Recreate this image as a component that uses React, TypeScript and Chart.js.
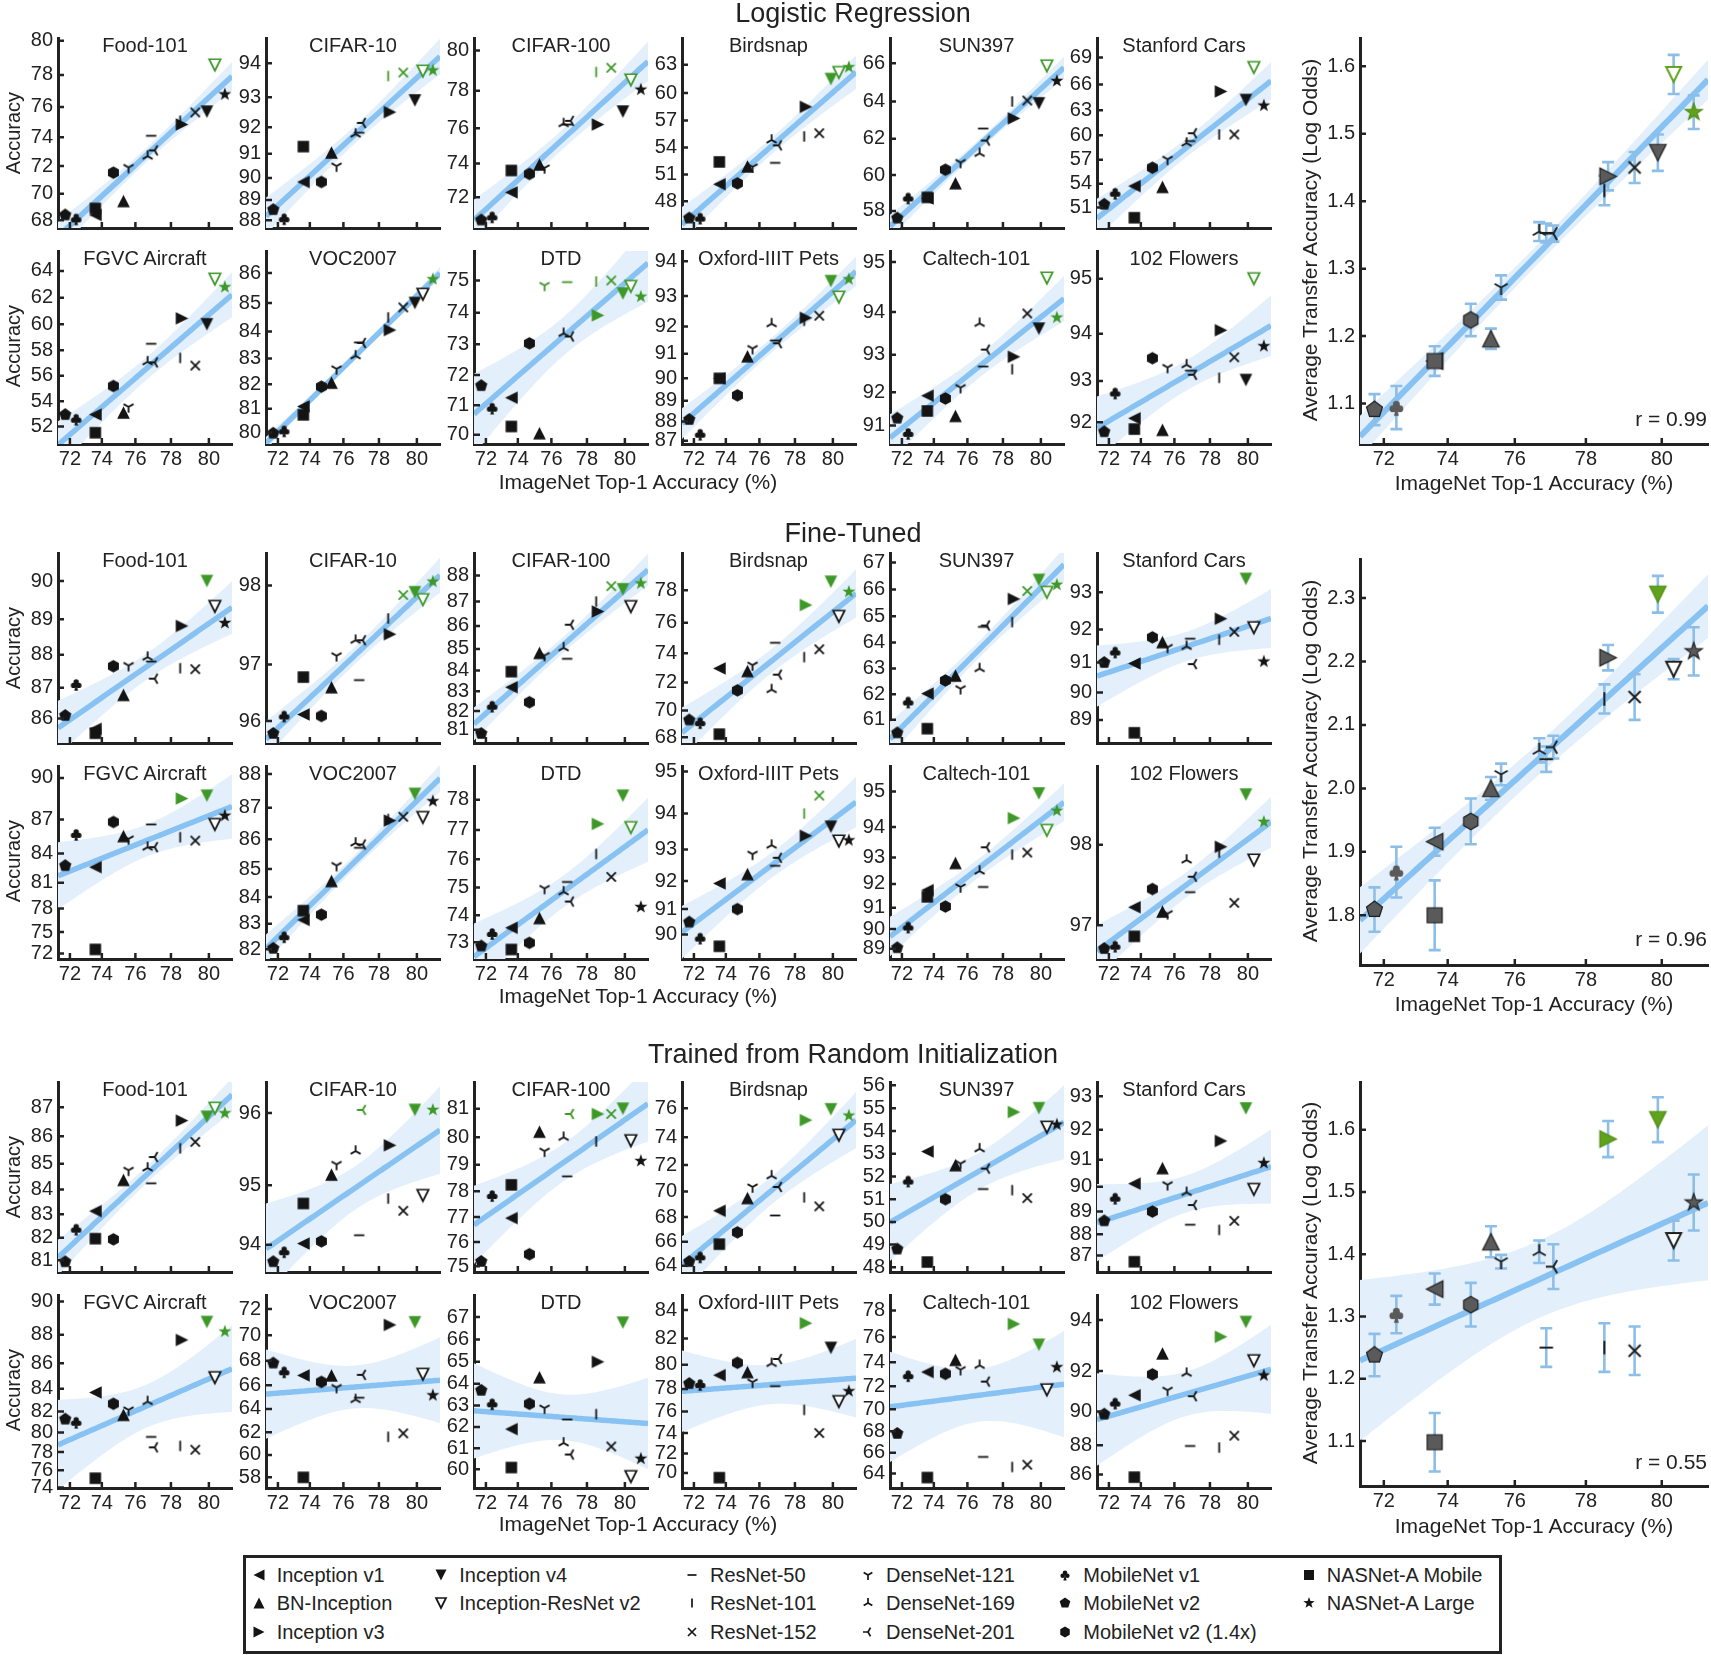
import React, { useEffect, useRef } from 'react';
import { Chart, registerables } from 'chart.js';

Chart.register(...registerables);

const FONT = '"Liberation Sans", Arial, Helvetica, sans-serif';
Chart.defaults.font.family = FONT;

// ---------------- models ----------------
const MODEL_NAMES = ['Inception v1', 'BN-Inception', 'Inception v3', 'Inception v4', 'Inception-ResNet v2', 'ResNet-50', 'ResNet-101', 'ResNet-152', 'DenseNet-121', 'DenseNet-169', 'DenseNet-201', 'MobileNet v1', 'MobileNet v2', 'MobileNet v2 (1.4x)', 'NASNet-A Mobile', 'NASNet-A Large'];
const MODEL_MARKERS = ['triLeft', 'triUp', 'triRight', 'triDown', 'triDownOpen', 'hline', 'vline', 'x', 'tri1', 'tri2', 'tri3', 'club', 'pentagon', 'hexagon', 'square', 'star'];
const IMAGENET_TOP1 = [73.6, 75.3, 78.6, 79.9, 80.3, 76.9, 78.5, 79.3, 75.6, 76.7, 77.1, 72.4, 71.7, 74.7, 73.6, 80.8];

const X_TICKS = [72, 74, 76, 78, 80];
const X_RANGE = [71.23, 81.15];

const DATASET_NAMES = ['Food-101', 'CIFAR-10', 'CIFAR-100', 'Birdsnap', 'SUN397', 'Stanford Cars', 'FGVC Aircraft', 'VOC2007', 'DTD', 'Oxford-IIIT Pets', 'Caltech-101', '102 Flowers'];

// ---------------- Logistic Regression ----------------
const LR_FOOD101 = [68.4, 69.45, 74.86, 75.7, 78.6, 74.1, 75.1, 75.65, 71.9, 72.7, 73.1, 68.1, 68.4, 71.53, 68.9, 76.8];
const LR_CIFAR10 = [89.82, 91.05, 92.52, 92.9, 93.78, 91.8, 93.64, 93.74, 90.5, 91.75, 92.15, 88.08, 88.53, 89.82, 91.28, 93.8];
const LR_CIFAR100 = [72.3, 73.95, 76.2, 76.9, 78.55, 76.2, 78.95, 79.16, 73.75, 76.25, 76.4, 70.8, 70.6, 73.4, 73.6, 78.05];
const LR_BIRDSNAP = [49.9, 51.9, 58.5, 61.5, 62.2, 52.3, 55.25, 55.6, 51.85, 54.85, 54.25, 46.1, 46.1, 50.0, 52.4, 62.75];
const LR_SUN397 = [58.7, 59.55, 63.1, 63.9, 65.87, 62.55, 64.0, 64.05, 60.7, 61.2, 61.9, 58.73, 57.6, 60.3, 58.76, 65.08];
const LR_CARS = [53.7, 53.6, 65.2, 64.2, 67.9, 59.3, 60.1, 60.1, 57.05, 59.05, 60.25, 52.8, 51.4, 56.0, 49.7, 63.55];
const LR_AIRCRAFT = [52.94, 53.1, 60.45, 60.0, 63.4, 58.5, 57.4, 56.8, 53.55, 57.1, 57.05, 52.57, 52.94, 55.2, 51.5, 62.8];
const LR_VOC = [81.1, 82.06, 84.05, 85.0, 85.3, 83.6, 84.5, 84.85, 82.6, 83.1, 83.58, 80.07, 79.97, 81.9, 80.75, 85.8];
const LR_DTD = [71.25, 70.05, 73.92, 74.6, 74.82, 74.95, 74.97, 75.0, 74.85, 73.35, 73.25, 70.9, 71.65, 73.03, 70.28, 74.5];
const LR_PETS = [90.0, 90.9, 92.3, 93.45, 92.97, 91.5, 92.2, 92.37, 91.2, 92.1, 91.4, 87.35, 88.1, 89.25, 90.0, 93.5];
const LR_CALTECH = [91.9, 91.3, 92.95, 93.63, 94.7, 92.7, 92.63, 93.97, 92.13, 93.75, 93.13, 90.75, 91.23, 91.82, 91.45, 93.88];
const LR_FLOWERS = [92.1, 91.8, 94.07, 93.02, 95.0, 93.23, 93.07, 93.52, 93.3, 93.36, 93.14, 92.72, 91.75, 93.5, 91.82, 93.75];
const LR_VALUES = [LR_FOOD101, LR_CIFAR10, LR_CIFAR100, LR_BIRDSNAP, LR_SUN397, LR_CARS, LR_AIRCRAFT, LR_VOC, LR_DTD, LR_PETS, LR_CALTECH, LR_FLOWERS];
const LR_GREEN = [[4], [4, 6, 7, 15], [4, 6, 7], [3, 4, 15], [4], [4], [4, 15], [15], [2, 3, 4, 5, 6, 7, 8, 15], [3, 4, 15], [4, 15], [4]];
const LR_TICKS = [
  [68, 70, 72, 74, 76, 78, 80], [88, 89, 90, 91, 92, 93, 94], [72, 74, 76, 78, 80], [48, 51, 54, 57, 60, 63], [58, 60, 62, 64, 66], [51, 54, 57, 60, 63, 66, 69],
  [52, 54, 56, 58, 60, 62, 64], [80, 81, 82, 83, 84, 85, 86], [70, 71, 72, 73, 74, 75], [87, 88, 89, 90, 91, 92, 93, 94], [91, 92, 93, 94, 95], [92, 93, 94, 95],
];
const LR_RANGES = [[67.4, 80.15], [87.6, 94.65], [70.1, 80.6], [45.0, 65.76], [57.04, 67.3], [48.4, 71.06], [50.6, 65.45], [79.5, 86.7], [69.68, 75.89], [86.83, 94.27], [90.4, 95.2], [91.42, 95.44]];
const BIG_LR = [1.163, 1.196, 1.437, 1.472, 1.588, 1.353, 1.416, 1.45, 1.272, 1.355, 1.352, 1.094, 1.091, 1.224, 1.163, 1.532];
const BIG_LR_ERR = [0.022, 0.015, 0.021, 0.027, 0.029, 0.014, 0.022, 0.023, 0.018, 0.014, 0.012, 0.032, 0.023, 0.024, 0.022, 0.025];
const BIG_LR_GREEN = [4, 15];
const BIG_LR_TICKS = [1.1, 1.2, 1.3, 1.4, 1.5, 1.6];
const BIG_LR_RANGE = [1.04, 1.642];

// ---------------- Fine-Tuned ----------------
const FT_FOOD101 = [85.65, 86.77, 88.82, 90.0, 89.35, 87.8, 87.6, 87.57, 87.68, 87.93, 87.28, 87.1, 86.1, 87.66, 85.5, 88.9];
const FT_CIFAR10 = [96.13, 96.63, 97.43, 97.93, 97.85, 96.75, 97.63, 97.9, 97.13, 97.35, 97.35, 96.1, 95.74, 96.1, 96.8, 98.04];
const FT_CIFAR100 = [83.2, 84.82, 86.6, 87.48, 86.8, 84.55, 87.0, 87.6, 84.7, 85.05, 86.05, 82.25, 80.8, 82.45, 83.95, 87.7];
const FT_BIRDSNAP = [72.98, 72.8, 77.1, 78.5, 76.4, 74.7, 73.75, 74.27, 73.2, 71.5, 72.55, 69.1, 69.3, 71.45, 68.24, 77.9];
const FT_SUN397 = [62.03, 62.73, 65.65, 66.36, 65.9, 64.6, 64.78, 65.95, 62.22, 63.0, 64.65, 61.7, 60.48, 62.54, 60.65, 66.18];
const FT_CARS = [90.97, 91.63, 92.3, 93.33, 92.05, 91.73, 91.7, 91.93, 91.47, 91.5, 90.95, 91.33, 91.0, 91.77, 88.5, 91.03];
const FT_AIRCRAFT = [82.65, 85.6, 88.6, 88.8, 86.6, 86.6, 85.5, 85.2, 85.35, 84.6, 84.6, 85.75, 82.8, 86.8, 72.6, 87.3];
const FT_VOC = [83.15, 84.58, 86.6, 87.42, 86.7, 85.72, 86.65, 86.72, 85.12, 85.88, 85.83, 82.5, 82.04, 83.35, 83.5, 87.2];
const FT_DTD = [73.54, 73.9, 77.2, 78.13, 77.08, 75.2, 76.18, 75.38, 74.97, 74.85, 74.5, 73.33, 72.86, 72.98, 72.73, 74.3];
const FT_PETS = [91.92, 92.23, 93.4, 93.65, 93.25, 92.5, 94.0, 94.45, 92.86, 93.13, 92.75, 89.85, 90.5, 91.0, 89.5, 93.27];
const FT_CALTECH = [91.75, 92.8, 94.27, 94.95, 93.9, 91.88, 93.1, 93.17, 91.88, 92.5, 93.35, 90.1, 89.05, 91.05, 91.47, 94.48];
const FT_FLOWERS = [97.26, 97.2, 97.98, 98.45, 97.84, 97.46, 97.92, 97.32, 97.17, 97.84, 97.65, 96.67, 96.63, 97.5, 96.83, 98.22];
const FT_VALUES = [FT_FOOD101, FT_CIFAR10, FT_CIFAR100, FT_BIRDSNAP, FT_SUN397, FT_CARS, FT_AIRCRAFT, FT_VOC, FT_DTD, FT_PETS, FT_CALTECH, FT_FLOWERS];
const FT_GREEN = [[3], [3, 4, 7, 15], [3, 7, 15], [2, 3, 15], [3, 4, 7, 15], [3], [2, 3], [3], [2, 3, 4], [6, 7], [2, 3, 4, 15], [3, 15]];
const FT_TICKS = [
  [86, 87, 88, 89, 90], [96, 97, 98], [81, 82, 83, 84, 85, 86, 87, 88], [68, 70, 72, 74, 76, 78], [61, 62, 63, 64, 65, 66, 67], [89, 90, 91, 92, 93],
  [72, 75, 78, 81, 84, 87, 90], [82, 83, 84, 85, 86, 87, 88], [73, 74, 75, 76, 77, 78], [90, 91, 92, 93, 94, 95], [89, 90, 91, 92, 93, 94, 95], [97, 98],
];
const FT_RANGES = [[85.16, 90.68], [95.53, 98.31], [80.28, 88.81], [67.57, 80.14], [60.08, 67.35], [88.09, 93.93], [71.22, 90.74], [81.61, 88.23], [72.37, 79.08], [88.94, 95.12], [88.44, 95.62], [96.45, 98.66]];
const BIG_FT = [1.916, 2.0, 2.206, 2.306, 2.188, 2.046, 2.141, 2.144, 2.022, 2.06, 2.065, 1.868, 1.809, 1.948, 1.8, 2.216];
const BIG_FT_ERR = [0.022, 0.018, 0.02, 0.029, 0.016, 0.02, 0.023, 0.036, 0.017, 0.019, 0.018, 0.04, 0.035, 0.036, 0.055, 0.038];
const BIG_FT_GREEN = [3];
const BIG_FT_TICKS = [1.8, 1.9, 2.0, 2.1, 2.2, 2.3];
const BIG_FT_RANGE = [1.7216, 2.3616];

// ---------------- Random Initialization ----------------
const RI_FOOD101 = [83.13, 84.38, 86.55, 86.68, 86.97, 84.25, 85.57, 85.8, 84.75, 84.84, 85.25, 82.37, 80.93, 81.93, 81.96, 86.8];
const RI_CIFAR10 = [94.02, 95.16, 95.58, 96.04, 94.84, 94.17, 94.79, 94.59, 95.31, 95.5, 96.04, 93.87, 93.68, 94.06, 94.71, 96.04];
const RI_CIFAR100 = [76.96, 80.2, 80.82, 81.0, 79.88, 78.57, 79.85, 80.82, 79.5, 80.0, 80.82, 77.84, 75.2, 75.5, 78.25, 79.14];
const RI_BIRDSNAP = [68.5, 69.5, 75.2, 75.93, 74.15, 68.13, 69.55, 68.85, 70.35, 71.2, 70.35, 64.75, 64.35, 66.77, 65.8, 75.5];
const RI_SUN397 = [53.1, 52.5, 54.83, 55.0, 54.17, 51.45, 51.4, 51.05, 52.57, 53.22, 52.35, 51.8, 48.8, 51.0, 48.23, 54.28];
const RI_CARS = [90.12, 90.7, 91.64, 92.65, 89.9, 88.43, 88.2, 88.6, 90.08, 89.78, 89.27, 89.55, 88.6, 89.0, 86.7, 90.88];
const RI_AIRCRAFT = [83.68, 81.7, 87.65, 88.8, 84.9, 79.57, 78.65, 78.25, 82.15, 82.9, 78.5, 81.0, 81.3, 82.7, 75.1, 88.2];
const RI_VOC = [66.8, 66.8, 70.8, 71.0, 66.9, 64.95, 61.6, 61.9, 65.8, 64.8, 66.85, 67.1, 67.8, 66.27, 58.0, 65.15];
const RI_DTD = [61.9, 64.3, 65.0, 66.75, 59.65, 62.35, 62.6, 61.08, 62.88, 61.25, 60.7, 63.08, 63.7, 63.08, 60.08, 60.5];
const RI_PETS = [79.15, 79.4, 83.1, 81.3, 76.9, 78.23, 76.15, 74.0, 78.57, 80.1, 80.45, 78.37, 78.45, 80.15, 69.5, 77.8];
const RI_CALTECH = [73.2, 74.2, 77.0, 75.4, 71.7, 65.6, 64.63, 64.85, 73.4, 73.75, 72.4, 72.9, 67.8, 73.05, 63.6, 73.6];
const RI_FLOWERS = [90.85, 92.75, 93.4, 93.93, 92.45, 87.95, 87.85, 88.6, 91.1, 91.9, 90.8, 90.45, 89.85, 91.85, 85.8, 91.8];
const RI_VALUES = [RI_FOOD101, RI_CIFAR10, RI_CIFAR100, RI_BIRDSNAP, RI_SUN397, RI_CARS, RI_AIRCRAFT, RI_VOC, RI_DTD, RI_PETS, RI_CALTECH, RI_FLOWERS];
const RI_GREEN = [[3, 4, 15], [3, 10, 15], [2, 3, 7, 10], [2, 3, 15], [2, 3], [3], [3, 15], [3], [3], [2], [2, 3], [2, 3]];
const RI_TICKS = [
  [81, 82, 83, 84, 85, 86, 87], [94, 95, 96], [75, 76, 77, 78, 79, 80, 81], [64, 66, 68, 70, 72, 74, 76], [48, 49, 50, 51, 52, 53, 54, 55, 56], [87, 88, 89, 90, 91, 92, 93],
  [74, 76, 78, 80, 82, 84, 86, 88, 90], [58, 60, 62, 64, 66, 68, 70, 72], [60, 61, 62, 63, 64, 65, 66, 67], [70, 72, 74, 76, 78, 80, 82, 84], [64, 66, 68, 70, 72, 74, 76, 78], [86, 88, 90, 92, 94],
];
const RI_RANGES = [[80.46, 87.82], [93.48, 96.37], [74.76, 81.9], [63.47, 77.71], [47.79, 56.14], [86.18, 93.39], [73.95, 90.36], [57.04, 73.03], [59.1, 67.96], [68.4, 84.98], [62.57, 79.1], [84.98, 94.8]];
const BIG_RI = [1.344, 1.42, 1.585, 1.616, 1.422, 1.25, 1.25, 1.245, 1.388, 1.404, 1.38, 1.303, 1.238, 1.319, 1.098, 1.483];
const BIG_RI_ERR = [0.025, 0.025, 0.029, 0.036, 0.032, 0.031, 0.039, 0.039, 0.011, 0.018, 0.036, 0.03, 0.034, 0.035, 0.047, 0.045];
const BIG_RI_GREEN = [2, 3];
const BIG_RI_TICKS = [1.1, 1.2, 1.3, 1.4, 1.5, 1.6];
const BIG_RI_RANGE = [1.0277, 1.6766];

const SECTION_DATA = [
  { title: 'Logistic Regression', values: LR_VALUES, green: LR_GREEN, ticks: LR_TICKS, ranges: LR_RANGES, big: BIG_LR, bigErr: BIG_LR_ERR, bigGreen: BIG_LR_GREEN, bigTicks: BIG_LR_TICKS, bigRange: BIG_LR_RANGE, r: 'r = 0.99' },
  { title: 'Fine-Tuned', values: FT_VALUES, green: FT_GREEN, ticks: FT_TICKS, ranges: FT_RANGES, big: BIG_FT, bigErr: BIG_FT_ERR, bigGreen: BIG_FT_GREEN, bigTicks: BIG_FT_TICKS, bigRange: BIG_FT_RANGE, r: 'r = 0.96' },
  { title: 'Trained from Random Initialization', values: RI_VALUES, green: RI_GREEN, ticks: RI_TICKS, ranges: RI_RANGES, big: BIG_RI, bigErr: BIG_RI_ERR, bigGreen: BIG_RI_GREEN, bigTicks: BIG_RI_TICKS, bigRange: BIG_RI_RANGE, r: 'r = 0.55' },
];

// ---------------- layout / style ----------------
const COL_X = [58, 266, 474, 681.5, 889.5, 1097];
const PANEL_W = 174;
const PANEL_H = 196;
const ROW_STEP = 213;
const BIG_LEFT = 1360;
const BIG_W = 348;
const SECTION_LAYOUT = [
  { titleY: 13, rowTop: 35, bigTop: 35, bigBottom: 444, xTitleY: 481, bigXTitleY: 482, rY: 418 },
  { titleY: 533, rowTop: 550, bigTop: 556, bigBottom: 965, xTitleY: 995, bigXTitleY: 1003, rY: 938 },
  { titleY: 1054, rowTop: 1079, bigTop: 1079, bigBottom: 1486, xTitleY: 1523, bigXTitleY: 1525, rY: 1461 },
];
const LEGEND_COLUMNS = [[0, 1, 2], [3, 4], [5, 6, 7], [8, 9, 10], [11, 12, 13], [14, 15]];
const LEGEND_COL_X = [276.7, 459.3, 710, 886, 1083.3, 1326.7];
const LEGEND_ROW_Y = [1575, 1603.3, 1631.7];

const LW = 62, PT = 14, PR = 14, BH_L = 36, BH_N = 14;
const AXIS_C = '#222222';
const TEXT_C = '#222222';
const LINE_C = 'rgb(136,194,242)';
const BAND_C = 'rgb(227,240,252)';
const ERR_C = 'rgb(140,190,232)';
const BLACK = '#141414';
const GREEN_S = 'rgb(62,152,40)';
const GREEN_B = 'rgb(96,162,28)';
const GRAY = '#5a5a5a';
const T_CRIT = 2.145;

const lg = (pct: number) => Math.log(pct / (100 - pct));

function linfit(xs: number[], ys: number[]) {
  const n = xs.length;
  const mx = xs.reduce((a, b) => a + b, 0) / n;
  const my = ys.reduce((a, b) => a + b, 0) / n;
  let sxx = 0, sxy = 0;
  for (let i = 0; i < n; i++) { sxx += (xs[i] - mx) ** 2; sxy += (xs[i] - mx) * (ys[i] - my); }
  const b = sxy / sxx, a = my - b * mx;
  let sse = 0;
  for (let i = 0; i < n; i++) sse += (ys[i] - a - b * xs[i]) ** 2;
  return { a, b, s: Math.sqrt(sse / (n - 2)), mx, sxx, n };
}

// ---------------- markers ----------------
const MARKER_STYLES: any = {
  small: { scale: 1.15, fill: BLACK, edge: null, edgeW: 0, line: BLACK, lineW: 1.8, open: BLACK, openW: 1.7 },
  smallG: { scale: 1.15, fill: GREEN_S, edge: null, edgeW: 0, line: GREEN_S, lineW: 1.8, open: GREEN_S, openW: 1.7 },
  big: { scale: 1.5, fill: GRAY, edge: '#1e1e1e', edgeW: 1.2, line: '#1e1e1e', lineW: 2, open: '#1e1e1e', openW: 2 },
  bigG: { scale: 1.5, fill: GREEN_B, edge: 'rgb(80,140,20)', edgeW: 1.2, line: GREEN_B, lineW: 2, open: GREEN_B, openW: 2 },
  legend: { scale: 1.0, fill: BLACK, edge: null, edgeW: 0, line: BLACK, lineW: 1.7, open: BLACK, openW: 1.7 },
};
const BASE_SIZE: any = { triLeft: 11, triUp: 11, triRight: 11, triDown: 11, triDownOpen: 10, hline: 9, vline: 9, x: 8, tri1: 10, tri2: 10, tri3: 10, club: 11, pentagon: 11, hexagon: 11, square: 10, star: 12 };

function drawShape(ctx: CanvasRenderingContext2D, shape: string, cx: number, cy: number, s: number, st: any) {
  const r = s / 2;
  const fillPoly = (pts: number[][], fill: string, edge: string | null, edgeW: number) => {
    ctx.beginPath();
    pts.forEach(([x, y], i) => (i ? ctx.lineTo(cx + x, cy + y) : ctx.moveTo(cx + x, cy + y)));
    ctx.closePath();
    ctx.fillStyle = fill;
    ctx.fill();
    if (edge) { ctx.strokeStyle = edge; ctx.lineWidth = edgeW; ctx.lineJoin = 'miter'; ctx.stroke(); }
  };
  const segs = (list: number[][]) => {
    ctx.beginPath();
    list.forEach(([x1, y1, x2, y2]) => { ctx.moveTo(cx + x1, cy + y1); ctx.lineTo(cx + x2, cy + y2); });
    ctx.strokeStyle = st.line; ctx.lineWidth = st.lineW; ctx.lineCap = 'butt'; ctx.stroke();
  };
  const regular = (k: number, rad: number) => {
    const pts: number[][] = [];
    for (let i = 0; i < k; i++) { const a = -Math.PI / 2 + (2 * Math.PI * i) / k; pts.push([rad * Math.cos(a), rad * Math.sin(a)]); }
    return pts;
  };
  switch (shape) {
    case 'triUp': fillPoly([[0, -r], [r, r], [-r, r]], st.fill, st.edge, st.edgeW); break;
    case 'triDown': fillPoly([[0, r], [-r, -r], [r, -r]], st.fill, st.edge, st.edgeW); break;
    case 'triLeft': fillPoly([[-r, 0], [r, -r], [r, r]], st.fill, st.edge, st.edgeW); break;
    case 'triRight': fillPoly([[r, 0], [-r, -r], [-r, r]], st.fill, st.edge, st.edgeW); break;
    case 'triDownOpen': fillPoly([[0, r], [-r, -r], [r, -r]], '#ffffff', st.open, st.openW); break;
    case 'square': fillPoly([[-r, -r], [r, -r], [r, r], [-r, r]], st.fill, st.edge, st.edgeW); break;
    case 'pentagon': fillPoly(regular(5, r * 1.02), st.fill, st.edge, st.edgeW); break;
    case 'hexagon': fillPoly(regular(6, r), st.fill, st.edge, st.edgeW); break;
    case 'star': {
      const pts: number[][] = [];
      for (let i = 0; i < 10; i++) { const a = -Math.PI / 2 + (Math.PI * i) / 5; const rad = i % 2 === 0 ? r : r * 0.4; pts.push([rad * Math.cos(a), rad * Math.sin(a)]); }
      fillPoly(pts, st.fill, st.edge, st.edgeW);
      break;
    }
    case 'club': {
      ctx.fillStyle = st.fill;
      ctx.beginPath();
      ctx.arc(cx, cy - 0.2 * s, 0.21 * s, 0, Math.PI * 2);
      ctx.moveTo(cx, cy + 0.07 * s);
      ctx.arc(cx - 0.21 * s, cy + 0.07 * s, 0.21 * s, 0, Math.PI * 2);
      ctx.moveTo(cx + 0.42 * s, cy + 0.07 * s);
      ctx.arc(cx + 0.21 * s, cy + 0.07 * s, 0.21 * s, 0, Math.PI * 2);
      ctx.fill();
      ctx.beginPath();
      ctx.moveTo(cx, cy - 0.05 * s); ctx.lineTo(cx - 0.15 * s, cy + 0.5 * s); ctx.lineTo(cx + 0.15 * s, cy + 0.5 * s); ctx.closePath();
      ctx.fill();
      break;
    }
    case 'hline': segs([[-r, 0, r, 0]]); break;
    case 'vline': segs([[0, -r, 0, r]]); break;
    case 'x': segs([[-r, -r, r, r], [-r, r, r, -r]]); break;
    case 'tri1': segs([[0, 0, 0, r], [0, 0, -0.866 * r, -0.5 * r], [0, 0, 0.866 * r, -0.5 * r]]); break;
    case 'tri2': segs([[0, 0, 0, -r], [0, 0, -0.866 * r, 0.5 * r], [0, 0, 0.866 * r, 0.5 * r]]); break;
    case 'tri3': segs([[0, 0, -r, 0], [0, 0, 0.5 * r, -0.866 * r], [0, 0, 0.5 * r, 0.866 * r]]); break;
    default: break;
  }
}

const markerCache = new Map<string, HTMLCanvasElement>();
function getMarker(shape: string, kind: string): HTMLCanvasElement {
  const key = shape + '|' + kind;
  const hit = markerCache.get(key);
  if (hit) return hit;
  const st = MARKER_STYLES[kind];
  const s = BASE_SIZE[shape] * st.scale;
  const dim = Math.ceil(s + 8);
  const c = document.createElement('canvas');
  c.width = dim; c.height = dim;
  const ctx = c.getContext('2d')!;
  drawShape(ctx, shape, dim / 2, dim / 2, s, st);
  markerCache.set(key, c);
  return c;
}

// ---------------- chart building ----------------
function buildConfig(spec: any) {
  const xMin = lg(X_RANGE[0]), xMax = lg(X_RANGE[1]);
  const f = linfit(spec.xs, spec.ys);
  const N = 80;
  const fitPts: any[] = [], upPts: any[] = [], loPts: any[] = [];
  for (let i = 0; i <= N; i++) {
    const x = xMin + ((xMax - xMin) * i) / N;
    const yh = f.a + f.b * x;
    const se = f.s * Math.sqrt(1 / f.n + (x - f.mx) ** 2 / f.sxx);
    fitPts.push({ x, y: yh });
    upPts.push({ x, y: yh + T_CRIT * se });
    loPts.push({ x, y: yh - T_CRIT * se });
  }
  const kindBase = spec.big ? 'big' : 'small';
  const styles = spec.xs.map((_: number, i: number) => getMarker(MODEL_MARKERS[i], spec.green.includes(i) ? kindBase + 'G' : kindBase));
  const pts = spec.xs.map((x: number, i: number) => ({ x, y: spec.ys[i] }));
  const xTickVals = X_TICKS.map(lg);

  const errPlugin = {
    id: 'errbars',
    beforeDatasetDraw(chart: any, args: any) {
      if (args.index !== 0 || !spec.errs) return;
      const { ctx, scales } = chart;
      ctx.save();
      ctx.strokeStyle = ERR_C;
      ctx.lineWidth = 2.6;
      ctx.beginPath();
      spec.xs.forEach((x: number, i: number) => {
        const px = scales.x.getPixelForValue(x);
        const y1 = scales.y.getPixelForValue(spec.ys[i] - spec.errs[i]);
        const y2 = scales.y.getPixelForValue(spec.ys[i] + spec.errs[i]);
        ctx.moveTo(px, y1); ctx.lineTo(px, y2);
        ctx.moveTo(px - 6, y1); ctx.lineTo(px + 6, y1);
        ctx.moveTo(px - 6, y2); ctx.lineTo(px + 6, y2);
      });
      ctx.stroke();
      ctx.restore();
    },
  };
  const tickPlugin = {
    id: 'inticks',
    afterDraw(chart: any) {
      const { ctx, chartArea: a, scales } = chart;
      ctx.save();
      ctx.strokeStyle = AXIS_C;
      ctx.lineWidth = 2.5;
      ctx.beginPath();
      xTickVals.forEach((v) => { const px = scales.x.getPixelForValue(v); ctx.moveTo(px, a.bottom); ctx.lineTo(px, a.bottom - 6); });
      spec.yTicks.forEach((v: number) => { const py = scales.y.getPixelForValue(v); ctx.moveTo(a.left, py); ctx.lineTo(a.left + 6, py); });
      ctx.stroke();
      ctx.restore();
    },
  };

  const tickFont = { family: FONT, size: 20 };
  return {
    type: 'line',
    data: {
      datasets: [
        { data: pts, showLine: false, pointStyle: styles, pointRadius: 6, pointHoverRadius: 6, clip: false, order: 0 },
        { data: fitPts, borderColor: LINE_C, borderWidth: spec.big ? 6 : 5.5, pointRadius: 0, fill: false, clip: 0, order: 1, tension: 0 },
        { data: upPts, borderColor: 'rgba(0,0,0,0)', borderWidth: 1, pointRadius: 0, fill: '+1', backgroundColor: BAND_C, clip: 0, order: 2 },
        { data: loPts, borderColor: 'rgba(0,0,0,0)', borderWidth: 1, pointRadius: 0, fill: false, clip: 0, order: 3 },
      ],
    },
    options: {
      responsive: false,
      animation: false,
      devicePixelRatio: 1,
      events: [],
      layout: { padding: { top: PT, right: PR, left: 0, bottom: 0 } },
      plugins: { legend: { display: false }, tooltip: { enabled: false }, title: { display: false } },
      scales: {
        x: {
          type: 'linear', min: xMin, max: xMax, bounds: 'data', z: 1,
          grid: { display: false, drawTicks: false },
          border: { display: true, width: 3, color: AXIS_C },
          ticks: { display: spec.showX, padding: 3, font: tickFont, color: TEXT_C, autoSkip: false, maxRotation: 0, minRotation: 0, callback: (_v: any, i: number) => String(X_TICKS[i]) },
          afterBuildTicks: (s: any) => { s.ticks = xTickVals.map((v) => ({ value: v })); },
          afterFit: (s: any) => { s.height = spec.showX ? BH_L : BH_N; },
        },
        y: {
          type: 'linear', min: spec.yMin, max: spec.yMax, bounds: 'data', z: 1,
          grid: { display: false, drawTicks: false },
          border: { display: true, width: 3, color: AXIS_C },
          ticks: { padding: 5, font: tickFont, color: TEXT_C, autoSkip: false, callback: (_v: any, i: number) => spec.yLabels[i] },
          afterBuildTicks: (s: any) => { s.ticks = spec.yTicks.map((v: number) => ({ value: v })); },
          afterFit: (s: any) => { s.width = LW; },
        },
      },
    },
    plugins: [errPlugin, tickPlugin],
  };
}

function ChartPanel({ spec }: { spec: any }) {
  const ref = useRef<HTMLCanvasElement>(null);
  const cw = Math.round(LW + spec.w + PR);
  const ch = Math.round(PT + spec.h + (spec.showX ? BH_L : BH_N));
  useEffect(() => {
    const chart = new Chart(ref.current as HTMLCanvasElement, buildConfig(spec) as any);
    return () => chart.destroy();
  }, []);
  return <canvas ref={ref} width={cw} height={ch} style={{ position: 'absolute', left: spec.left - LW, top: spec.top - PT, width: cw, height: ch }} />;
}

function Label({ x, y, text, size, rotate, anchor }: any) {
  const tx = anchor === 'right' ? '-100%' : anchor === 'left' ? '0%' : '-50%';
  return (
    <div style={{ position: 'absolute', left: x, top: y, transform: `translate(${tx},-50%)${rotate ? ' rotate(-90deg)' : ''}`, fontFamily: FONT, fontSize: size, lineHeight: 1, whiteSpace: 'nowrap', color: TEXT_C }}>
      {text}
    </div>
  );
}

function LegendMarker({ shape, x, y }: any) {
  const ref = useRef<HTMLCanvasElement>(null);
  useEffect(() => {
    const c = ref.current as HTMLCanvasElement;
    const ctx = c.getContext('2d')!;
    ctx.clearRect(0, 0, 20, 20);
    drawShape(ctx, shape, 10, 10, BASE_SIZE[shape] * MARKER_STYLES.legend.scale, MARKER_STYLES.legend);
  }, []);
  return <canvas ref={ref} width={20} height={20} style={{ position: 'absolute', left: x - 10, top: y - 10, width: 20, height: 20 }} />;
}

export default function App() {
  const panels: any[] = [];
  const labels: any[] = [];
  SECTION_DATA.forEach((sec, si) => {
    const L = SECTION_LAYOUT[si];
    labels.push(<Label key={`t${si}`} x={853} y={L.titleY} text={sec.title} size={27} />);
    sec.values.forEach((vals, di) => {
      const row = Math.floor(di / 6), col = di % 6;
      const left = COL_X[col], top = L.rowTop + row * ROW_STEP;
      panels.push({
        key: `p${si}_${di}`, left, top, w: PANEL_W, h: PANEL_H, showX: row === 1, big: false,
        xs: IMAGENET_TOP1.map(lg), ys: vals.map(lg), green: sec.green[di],
        yMin: lg(sec.ranges[di][0]), yMax: lg(sec.ranges[di][1]),
        yTicks: sec.ticks[di].map(lg), yLabels: sec.ticks[di].map(String),
      });
      labels.push(<Label key={`n${si}_${di}`} x={left + PANEL_W / 2} y={top + 10} text={DATASET_NAMES[di]} size={20} />);
      if (col === 0) labels.push(<Label key={`a${si}_${di}`} x={13} y={top + PANEL_H / 2} text="Accuracy" size={20} rotate />);
    });
    panels.push({
      key: `b${si}`, left: BIG_LEFT, top: L.bigTop, w: BIG_W, h: L.bigBottom - L.bigTop, showX: true, big: true,
      xs: IMAGENET_TOP1.map(lg), ys: sec.big, errs: sec.bigErr, green: sec.bigGreen,
      yMin: sec.bigRange[0], yMax: sec.bigRange[1], yTicks: sec.bigTicks, yLabels: sec.bigTicks.map((v) => v.toFixed(1)),
    });
    labels.push(<Label key={`x${si}`} x={638} y={L.xTitleY} text="ImageNet Top-1 Accuracy (%)" size={21} />);
    labels.push(<Label key={`bx${si}`} x={BIG_LEFT + BIG_W / 2} y={L.bigXTitleY} text="ImageNet Top-1 Accuracy (%)" size={21} />);
    labels.push(<Label key={`by${si}`} x={1309} y={(L.bigTop + L.bigBottom) / 2} text="Average Transfer Accuracy (Log Odds)" size={21} rotate />);
    labels.push(<Label key={`r${si}`} x={1707} y={L.rY} text={sec.r} size={21} anchor="right" />);
  });

  const legendItems: any[] = [];
  LEGEND_COLUMNS.forEach((col, ci) => {
    col.forEach((mi, ri) => {
      legendItems.push(<LegendMarker key={`lm${mi}`} shape={MODEL_MARKERS[mi]} x={LEGEND_COL_X[ci] - 18} y={LEGEND_ROW_Y[ri]} />);
      legendItems.push(<Label key={`lt${mi}`} x={LEGEND_COL_X[ci]} y={LEGEND_ROW_Y[ri]} text={MODEL_NAMES[mi]} size={20} anchor="left" />);
    });
  });

  return (
    <div style={{ position: 'absolute', left: 0, top: 0, width: 1711, height: 1655, overflow: 'hidden', background: '#ffffff' }}>
      {panels.map((p) => <ChartPanel key={p.key} spec={p} />)}
      {labels}
      <div style={{ position: 'absolute', left: 242.5, top: 1554.5, width: 1259, height: 99, border: '3px solid #222', boxSizing: 'border-box' }} />
      {legendItems}
    </div>
  );
}
